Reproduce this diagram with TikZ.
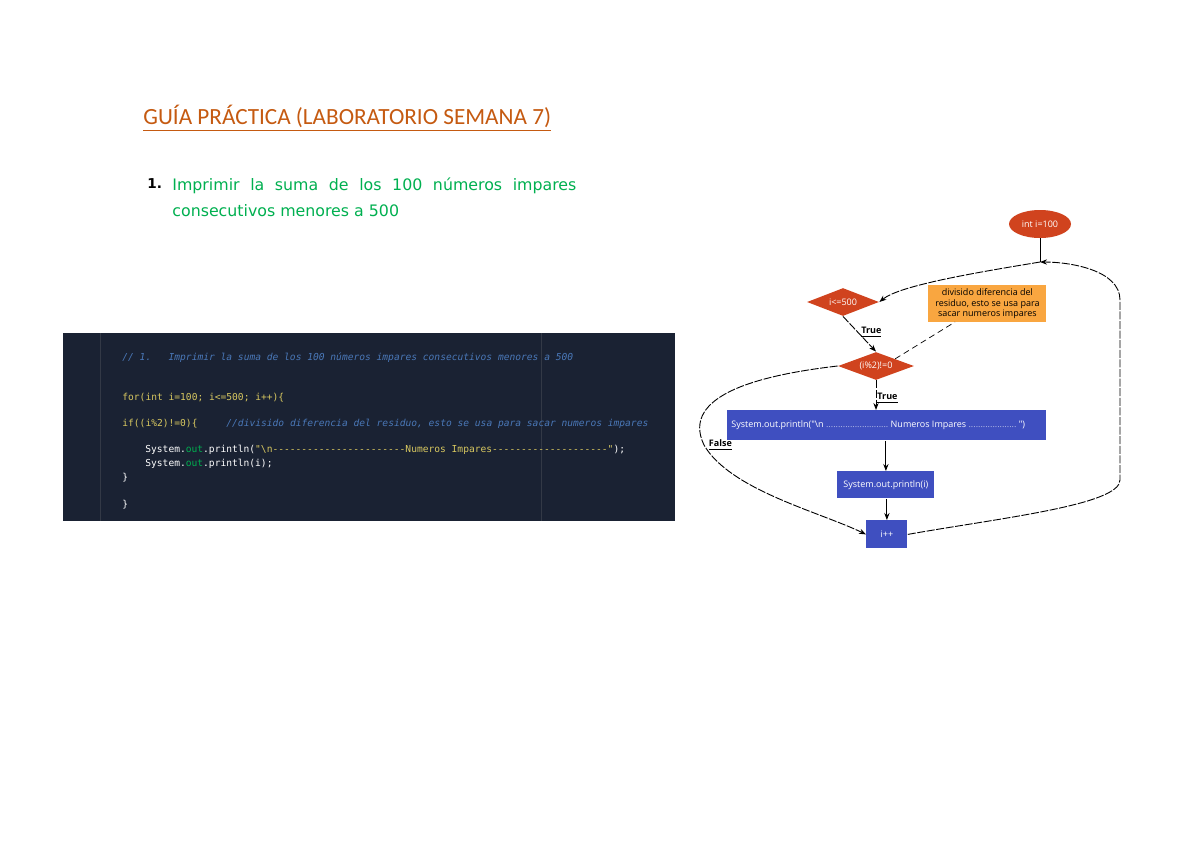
\documentclass[tikz,border=0pt]{standalone}
\usepackage{fontspec}
\setmainfont{Carlito}
\newfontfamily\dv{DejaVu Sans}
\newfontfamily\os{Open Sans}
\setmonofont{DejaVu Sans Mono}
\usetikzlibrary{shapes.geometric,arrows.meta}
\definecolor{ttl}{HTML}{C55A11}
\definecolor{grn}{HTML}{00B050}
\definecolor{navy}{HTML}{1A2233}
\definecolor{red1}{HTML}{D0431E}
\definecolor{org}{HTML}{F9A640}
\definecolor{blu}{HTML}{3F4FC0}
\definecolor{cmt}{HTML}{4A78B8}
\definecolor{yel}{HTML}{D8C860}
\tikzset{
 dia/.style={diamond,fill=red1,aspect=2.6,inner sep=0.5pt,text=white,font=\os\fontsize{4.5}{5}\selectfont},
 bbox/.style={rectangle,fill=blu,text=white,font=\os\fontsize{4.5}{5}\selectfont,anchor=north west},
 flow/.style={-{Stealth[length=3.5pt]},black,line width=0.45pt},
 dflow/.style={flow,dash pattern=on 4pt off 0.8pt},
 lbl/.style={font=\os\bfseries\fontsize{4.5}{5}\selectfont,inner sep=0.5pt},
 code/.style={font=\ttfamily\fontsize{4.8}{5}\selectfont,anchor=west,inner sep=0}
}
\begin{document}
\begin{tikzpicture}[x=0.5pt,y=-0.5pt]
\useasboundingbox[fill=white] (0,0) rectangle (1200,848);
\node[anchor=west,text=ttl,font=\fontsize{11.6}{13}\selectfont,inner sep=0] (title) at (143,118) {\underline{GUÍA PRÁCTICA (LABORATORIO SEMANA 7)}};
\node[anchor=west,font=\dv\bfseries\fontsize{6.8}{8}\selectfont,inner sep=0] (num) at (147,184) {1.};
\node[anchor=north west,text=grn,font=\dv\fontsize{7.9}{13}\selectfont,text width=202pt,align=justify,inner sep=0] (q) at (172,177) {Imprimir la suma de los 100 números impares\linebreak consecutivos menores a 500};
% code box
\fill[navy] (63,333) rectangle (675,521);
\draw[gray!25!navy,line width=0.25pt] (100,333)--(100,521) (541,333)--(541,521);
\node[code,text=cmt] (c1) at (122,358) {\itshape // 1.\ \ \ Imprimir la suma de los 100 números impares consecutivos menores a 500};
\node[code,text=yel] (c2) at (122,398) {for(int i=100; i<=500; i++)\{};
\node[code,text=yel] (c3) at (122,424) {if((i\%2)!=0)\{\ \ \ \ \ {\color{cmt}\itshape //divisido diferencia del residuo, esto se usa para sacar numeros impares}};
\node[code,text=white] (c4) at (145,450) {System.{\color{grn}out}.println({\color{yel}"\textbackslash n-----------------------Numeros Impares--------------------"});};
\node[code,text=white] (c5) at (145,464) {System.{\color{grn}out}.println(i);};
\node[code,text=white] (c6) at (122,478) {\}};
\node[code,text=white] (c7) at (122,505) {\}};
% flowchart
\node[ellipse,fill=red1,text=white,minimum width=31pt,minimum height=14pt,inner sep=0,font=\os\fontsize{4.5}{5}\selectfont] (start) at (1040,224) {int i=100};
\coordinate (j) at (1040,262);
\node[dia,minimum width=36pt,minimum height=14pt] (d1) at (843,302) {i<=500};
\node[fill=org,anchor=north west,minimum width=59pt,minimum height=18.5pt,inner sep=0.5pt,align=center,font=\os\fontsize{4.5}{5.3}\selectfont] (note) at (928,285) {divisido diferencia del\\residuo, esto se usa para\\sacar numeros impares};
\node[dia,minimum width=38pt,minimum height=14pt] (d2) at (876,366) {(i\%2)!=0};
\node[bbox,minimum width=159.5pt,minimum height=15pt] (p1) at (727,410) {};
\node[anchor=west,text=white,font=\os\fontsize{4.5}{5}\selectfont,inner sep=0] (p1t) at (731,425) {System.out.println("\textbackslash n\ {\color{white!60!blu}..........................}\ Numeros Impares\ {\color{white!60!blu}....................}\ ")};
\node[bbox,minimum width=48.5pt,minimum height=13.5pt] (p2) at (837,471) {};
\node[text=white,font=\os\fontsize{4.5}{5}\selectfont] (p2t) at (p2.center) {System.out.println(i)};
\node[bbox,minimum width=20.5pt,minimum height=14pt] (p3) at (866,520) {};
\node[text=white,font=\os\fontsize{4.5}{5}\selectfont] (p3t) at (p3.center) {i++};
\draw[line width=0.45pt] (start.south) -- (j);
\draw[dflow] (j) .. controls (980,272) and (900,285) .. (d1.east);
\draw[dflow] (d1.south) -- node[lbl,right,pos=0.45,xshift=1pt]{\underline{True}} (d2.north);
\draw[densely dashed,line width=0.35pt] (d2.north east) -- (955,322);
\draw[dflow] (d2.south) -- node[lbl,right,pos=0.6]{\underline{True}} (p1.north -| d2.south);
\draw[flow] (p1.south -| p2.north) -- (p2.north);
\draw[flow] (p2.south -| p3.north) -- (p3.north);
\draw[dflow] (d2.west) .. controls (760,375) and (680,395) .. (704,445) .. controls (730,490) and (820,512) .. node[lbl,pos=0.05,above,xshift=6pt]{\underline{False}} (p3.west);
\draw[dflow] (p3.east) .. controls (1000,518) and (1120,505) .. (1120,480) -- (1120,300) .. controls (1120,270) and (1070,262) .. (j);
\end{tikzpicture}
\end{document}
